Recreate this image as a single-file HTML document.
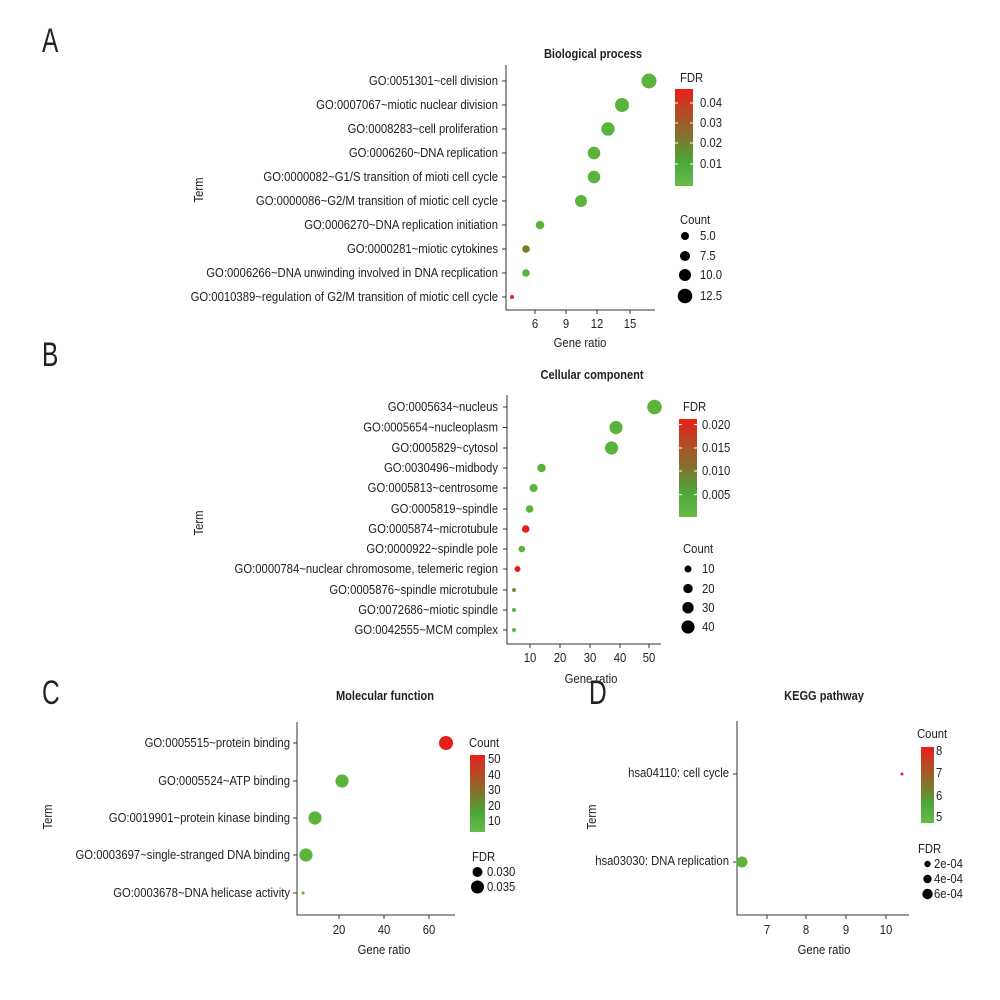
<!DOCTYPE html>
<html><head><meta charset="utf-8"><style>
html,body{margin:0;padding:0;background:#fff;}
svg{display:block;font-family:"Liberation Sans Narrow","Liberation Sans",sans-serif;}
text{fill:#222;}
.l{font-size:13px;text-anchor:end;}
.t{font-size:13px;}
.tk{font-size:13px;text-anchor:middle;}
.ttl{font-size:13px;font-weight:bold;text-anchor:middle;}
.pl{font-size:34px;}
.ax{stroke:#333;stroke-width:1;fill:none;}
</style></head><body>
<svg width="1000" height="1000" viewBox="0 0 1000 1000" xmlns="http://www.w3.org/2000/svg">
<defs>
<linearGradient id="g" x1="0" y1="0" x2="0" y2="1">
<stop offset="0" stop-color="#e8201c"/><stop offset="0.45" stop-color="#8a6c2a"/><stop offset="0.75" stop-color="#4aa838"/><stop offset="1" stop-color="#66bb48"/>
</linearGradient>
</defs>
<!-- Panel labels -->
<g transform="translate(42,52) scale(.72,1)"><text class="pl">A</text></g>
<g transform="translate(42,366) scale(.72,1)"><text class="pl">B</text></g>
<g transform="translate(42,704) scale(.72,1)"><text class="pl">C</text></g>
<g transform="translate(589,704) scale(.72,1)"><text class="pl">D</text></g>

<!-- ===== A ===== -->
<g transform="translate(593,58) scale(.85,1)"><text class="ttl">Biological process</text></g>
<path class="ax" d="M506 65 V310 H655"/>
<g class="ax">
<path d="M502 81H506M502 105H506M502 129H506M502 153H506M502 177H506M502 201H506M502 225H506M502 249H506M502 273H506M502 297H506"/>
<path d="M535 310V314M566 310V314M597 310V314M630 310V314"/>
</g>
<g class="l" transform="translate(498,0) scale(.87,1)">
<text y="85">GO:0051301~cell division</text>
<text y="109">GO:0007067~miotic nuclear division</text>
<text y="133">GO:0008283~cell proliferation</text>
<text y="157">GO:0006260~DNA replication</text>
<text y="181">GO:0000082~G1/S transition of mioti cell cycle</text>
<text y="205">GO:0000086~G2/M transition of miotic cell cycle</text>
<text y="229">GO:0006270~DNA replication initiation</text>
<text y="253">GO:0000281~miotic cytokines</text>
<text y="277">GO:0006266~DNA unwinding involved in DNA recplication</text>
<text y="301">GO:0010389~regulation of G2/M transition of miotic cell cycle</text>
</g>
<g class="tk">
<g transform="translate(535,328) scale(.87,1)"><text>6</text></g>
<g transform="translate(566,328) scale(.87,1)"><text>9</text></g>
<g transform="translate(597,328) scale(.87,1)"><text>12</text></g>
<g transform="translate(630,328) scale(.87,1)"><text>15</text></g>
<g transform="translate(580,347) scale(.87,1)"><text>Gene ratio</text></g>
</g>
<g transform="translate(203,190) rotate(-90) scale(.87,1)"><text class="t" text-anchor="middle">Term</text></g>
<g fill="#5cb33c">
<circle cx="649" cy="81" r="7.5"/><circle cx="622" cy="105" r="7"/><circle cx="608" cy="129" r="6.7"/>
<circle cx="594" cy="153" r="6.3"/><circle cx="594" cy="177" r="6.3"/><circle cx="581" cy="201" r="6"/>
<circle cx="540" cy="225" r="4.3"/><circle cx="526" cy="273" r="3.8"/>
</g>
<circle cx="526" cy="249" r="3.8" fill="#7d7a2c"/>
<circle cx="512" cy="297" r="2" fill="#e8201c"/>
<rect x="675" y="89" width="18" height="97" fill="url(#g)"/>
<g stroke="#fff" stroke-width="1"><path d="M675 103h3M690 103h3M675 123h3M690 123h3M675 143h3M690 143h3M675 164h3M690 164h3"/></g>
<g class="t" transform="translate(680,0) scale(.87,1)"><text y="82">FDR</text><text y="224">Count</text></g>
<g class="t" transform="translate(700,0) scale(.87,1)"><text y="107">0.04</text><text y="127">0.03</text><text y="147">0.02</text><text y="168">0.01</text>
<text y="240">5.0</text><text y="260">7.5</text><text y="279">10.0</text><text y="300">12.5</text></g>
<g fill="#000"><circle cx="685" cy="236" r="4"/><circle cx="685" cy="256" r="5"/><circle cx="685" cy="275" r="6"/><circle cx="685" cy="296" r="7.3"/></g>

<!-- ===== B ===== -->
<g transform="translate(592,379) scale(.85,1)"><text class="ttl">Cellular component</text></g>
<path class="ax" d="M507 395 V644 H661"/>
<g class="ax">
<path d="M503 407H507M503 427.5H507M503 448H507M503 468H507M503 488H507M503 509H507M503 529H507M503 549H507M503 569H507M503 590H507M503 610H507M503 630H507"/>
<path d="M530 644V648M560 644V648M590 644V648M620 644V648M649 644V648"/>
</g>
<g class="l" transform="translate(498,0) scale(.87,1)">
<text y="411">GO:0005634~nucleus</text>
<text y="431.5">GO:0005654~nucleoplasm</text>
<text y="452">GO:0005829~cytosol</text>
<text y="472">GO:0030496~midbody</text>
<text y="492">GO:0005813~centrosome</text>
<text y="513">GO:0005819~spindle</text>
<text y="533">GO:0005874~microtubule</text>
<text y="553">GO:0000922~spindle pole</text>
<text y="573">GO:0000784~nuclear chromosome, telemeric region</text>
<text y="594">GO:0005876~spindle microtubule</text>
<text y="614">GO:0072686~miotic spindle</text>
<text y="634">GO:0042555~MCM complex</text>
</g>
<g class="tk">
<g transform="translate(530,662) scale(.87,1)"><text>10</text></g>
<g transform="translate(560,662) scale(.87,1)"><text>20</text></g>
<g transform="translate(590,662) scale(.87,1)"><text>30</text></g>
<g transform="translate(620,662) scale(.87,1)"><text>40</text></g>
<g transform="translate(649,662) scale(.87,1)"><text>50</text></g>
<g transform="translate(591,683) scale(.87,1)"><text>Gene ratio</text></g>
</g>
<g transform="translate(203,523) rotate(-90) scale(.87,1)"><text class="t" text-anchor="middle">Term</text></g>
<g fill="#5cb33c">
<circle cx="654.5" cy="407" r="7.3"/><circle cx="616" cy="427.5" r="6.6"/><circle cx="611.5" cy="448" r="6.6"/>
<circle cx="541.5" cy="468" r="4.2"/><circle cx="533.6" cy="488" r="4"/><circle cx="529.6" cy="509" r="3.8"/>
<circle cx="521.8" cy="549" r="3.3"/>
<circle cx="514" cy="610" r="2"/><circle cx="514" cy="630" r="2"/>
</g>
<circle cx="525.7" cy="529" r="3.8" fill="#e3201c"/>
<circle cx="517.5" cy="569" r="3" fill="#e3201c"/>
<circle cx="514" cy="590" r="2" fill="#7a8a2c"/>
<rect x="679" y="419" width="18" height="98" fill="url(#g)"/>
<g stroke="#fff" stroke-width="1"><path d="M679 424.6h3M694 424.6h3M679 448h3M694 448h3M679 471h3M694 471h3M679 494.6h3M694 494.6h3"/></g>
<g class="t" transform="translate(683,0) scale(.87,1)"><text y="411">FDR</text><text y="553">Count</text></g>
<g class="t" transform="translate(702,0) scale(.87,1)"><text y="429">0.020</text><text y="452">0.015</text><text y="475">0.010</text><text y="499">0.005</text>
<text y="573">10</text><text y="593">20</text><text y="612">30</text><text y="631">40</text></g>
<g fill="#000"><circle cx="688" cy="569" r="3.5"/><circle cx="688" cy="588.6" r="4.7"/><circle cx="688" cy="607.7" r="5.7"/><circle cx="688" cy="627" r="6.6"/></g>

<!-- ===== C ===== -->
<g transform="translate(385,700) scale(.85,1)"><text class="ttl">Molecular function</text></g>
<path class="ax" d="M297 722 V915 H455"/>
<g class="ax">
<path d="M293 743H297M293 781H297M293 818H297M293 855H297M293 893H297"/>
<path d="M339 915V919M384 915V919M429 915V919"/>
</g>
<g class="l" transform="translate(290,0) scale(.87,1)">
<text y="747">GO:0005515~protein binding</text>
<text y="785">GO:0005524~ATP binding</text>
<text y="822">GO:0019901~protein kinase binding</text>
<text y="859">GO:0003697~single-stranged DNA binding</text>
<text y="897">GO:0003678~DNA helicase activity</text>
</g>
<g class="tk">
<g transform="translate(339,934) scale(.87,1)"><text>20</text></g>
<g transform="translate(384,934) scale(.87,1)"><text>40</text></g>
<g transform="translate(429,934) scale(.87,1)"><text>60</text></g>
<g transform="translate(384,954) scale(.87,1)"><text>Gene ratio</text></g>
</g>
<g transform="translate(52,817) rotate(-90) scale(.87,1)"><text class="t" text-anchor="middle">Term</text></g>
<circle cx="446" cy="743" r="7" fill="#e3201c"/>
<g fill="#5cb33c"><circle cx="342" cy="781" r="6.6"/><circle cx="315" cy="818" r="6.6"/><circle cx="306" cy="855" r="6.6"/><circle cx="303" cy="893" r="1.5"/></g>
<rect x="470" y="755" width="15" height="77" fill="url(#g)"/>
<g class="t" transform="translate(469,0) scale(.87,1)"><text y="747">Count</text></g>
<g class="t" transform="translate(488,0) scale(.87,1)"><text y="763">50</text><text y="779">40</text><text y="794">30</text><text y="810">20</text><text y="825">10</text></g>
<g class="t" transform="translate(472,0) scale(.87,1)"><text y="861">FDR</text></g>
<g fill="#000"><circle cx="477.5" cy="872" r="5"/><circle cx="477.5" cy="887" r="6.5"/></g>
<g class="t" transform="translate(487,0) scale(.87,1)"><text y="876">0.030</text><text y="891">0.035</text></g>

<!-- ===== D ===== -->
<g transform="translate(824,700) scale(.85,1)"><text class="ttl">KEGG pathway</text></g>
<path class="ax" d="M737 721 V915 H909"/>
<g class="ax">
<path d="M733 774H737M733 862H737"/>
<path d="M767 915V919M806 915V919M846 915V919M886 915V919"/>
</g>
<g class="l" transform="translate(729,0) scale(.87,1)">
<text y="777">hsa04110: cell cycle</text>
<text y="865">hsa03030: DNA replication</text>
</g>
<g class="tk">
<g transform="translate(767,934) scale(.87,1)"><text>7</text></g>
<g transform="translate(806,934) scale(.87,1)"><text>8</text></g>
<g transform="translate(846,934) scale(.87,1)"><text>9</text></g>
<g transform="translate(886,934) scale(.87,1)"><text>10</text></g>
<g transform="translate(824,954) scale(.87,1)"><text>Gene ratio</text></g>
</g>
<g transform="translate(596,817) rotate(-90) scale(.87,1)"><text class="t" text-anchor="middle">Term</text></g>
<circle cx="902" cy="774" r="1.5" fill="#e3201c"/>
<circle cx="742" cy="862" r="5.5" fill="#5cb33c"/>
<rect x="921" y="747" width="13" height="76" fill="url(#g)"/>
<g class="t" transform="translate(917,0) scale(.87,1)"><text y="738">Count</text></g>
<g class="t" transform="translate(936,0) scale(.87,1)"><text y="755">8</text><text y="777">7</text><text y="800">6</text><text y="821">5</text></g>
<g class="t" transform="translate(918,0) scale(.87,1)"><text y="853">FDR</text></g>
<g fill="#000"><circle cx="927.5" cy="864" r="3.2"/><circle cx="927.5" cy="879" r="4.2"/><circle cx="927.5" cy="894" r="5.2"/></g>
<g class="t" transform="translate(934,0) scale(.87,1)"><text y="868">2e-04</text><text y="883">4e-04</text><text y="898">6e-04</text></g>
</svg>
</body></html>
